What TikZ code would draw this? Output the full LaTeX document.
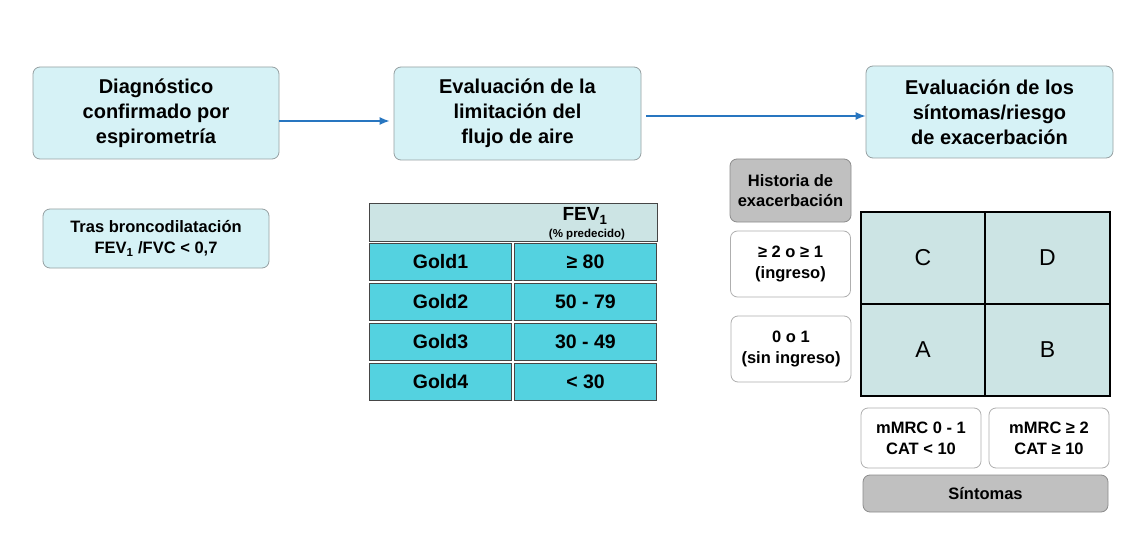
\documentclass[tikz,border=0pt]{standalone}
\usepackage{fontspec}
\setmainfont{Liberation Sans}
\usetikzlibrary{arrows.meta}
\definecolor{boxfill}{RGB}{214,242,246}
\definecolor{boxline}{RGB}{150,160,162}
\definecolor{hdrfill}{RGB}{204,228,228}
\definecolor{cyancell}{RGB}{84,210,224}
\definecolor{grayfill}{RGB}{192,192,192}
\definecolor{grayline}{RGB}{140,140,140}
\definecolor{arrblue}{RGB}{40,118,192}
\definecolor{cellline}{RGB}{70,70,70}
\tikzset{
  bigbox/.style={draw=boxline, fill=boxfill, rounded corners=7pt, line width=0.8pt,
    inner sep=0pt, align=center, font={\fontsize{20}{25}\selectfont\bfseries}},
  smallbox/.style={draw=boxline, fill=boxfill, rounded corners=7pt, line width=0.8pt,
    inner sep=0pt, align=center, font={\fontsize{16.5}{21}\selectfont\bfseries}},
  graybox/.style={draw=grayline, fill=grayfill, rounded corners=7pt, line width=0.8pt,
    inner sep=0pt, align=center, font={\fontsize{16.5}{20.5}\selectfont\bfseries}},
  whitebox/.style={draw=grayline!70, fill=white, rounded corners=7pt, line width=0.8pt,
    inner sep=0pt, align=center, font={\fontsize{16.5}{21}\selectfont\bfseries}},
  hdrcell/.style={draw=cellline, fill=hdrfill, line width=0.7pt, inner sep=0pt,
    minimum width=288pt, minimum height=38pt},
  tcell/.style={draw=cellline, fill=cyancell, line width=0.7pt, inner sep=0pt,
    minimum width=142pt, minimum height=37pt, font={\fontsize{19.5}{24}\selectfont\bfseries}},
  gcell/.style={draw=black, fill=hdrfill, line width=1.8pt, inner sep=0pt,
    minimum height=92pt, font={\fontsize{23}{28}\selectfont}},
  arr/.style={draw=arrblue, line width=1.4pt, -{Latex[length=10pt,width=8pt]}},
  plain/.style={inner sep=0pt}
}
\begin{document}
\begin{tikzpicture}[x=1pt,y=-1pt]
\useasboundingbox[fill=white] (0,0) rectangle (1140,556);

% top boxes
\node[bigbox, minimum width=246pt, minimum height=92pt] (b1) at (156,113)
  {Diagnóstico\\confirmado por\\espirometría};
\node[bigbox, minimum width=247pt, minimum height=93pt] (b2) at (517.5,113.5)
  {Evaluación de la\\limitación del\\flujo de aire};
\node[bigbox, minimum width=247pt, minimum height=92pt] (b3) at (989.5,112)
  {Evaluación de los\\síntomas/riesgo\\de exacerbación};

\draw[arr] ([yshift=-8pt]b1.east) -- ([xshift=-4pt,yshift=-7.5pt]b2.west);
\draw[arr] ([xshift=5pt,yshift=-2.5pt]b2.east) -- ([yshift=-4pt]b3.west);

% post bronchodilator box
\node[smallbox, minimum width=226pt, minimum height=59pt] (tras) at (156,238.5)
  {Tras broncodilatación\\FEV\textsubscript{1} /FVC < 0,7};

% table
\node[hdrcell] (hdr) at (513,222) {};
\node[plain, anchor=base, font={\fontsize{19}{22}\selectfont\bfseries}] (fev) at (585,221) {FEV\textsubscript{1}};
\node[plain, anchor=base, font={\fontsize{11.5}{13}\selectfont\bfseries}] (pred) at (587,237) {(\% predecido)};

\node[tcell] (g1l) at (440.5,262) {Gold1};
\node[tcell] (g1r) at (585.5,262) {≥ 80};
\node[tcell] (g2l) at (440.5,301.5) {Gold2};
\node[tcell] (g2r) at (585.5,301.5) {50 - 79};
\node[tcell] (g3l) at (440.5,341.5) {Gold3};
\node[tcell] (g3r) at (585.5,341.5) {30 - 49};
\node[tcell] (g4l) at (440.5,381.5) {Gold4};
\node[tcell] (g4r) at (585.5,381.5) {< 30};

% exacerbation history
\node[graybox, minimum width=121pt, minimum height=63pt] (hist) at (790.5,190.5)
  {Historia de\\exacerbación};
\node[whitebox, minimum width=120pt, minimum height=66pt] (ing) at (790.5,264)
  {≥ 2 o ≥ 1\\(ingreso)};
\node[whitebox, minimum width=120pt, minimum height=66pt] (sing) at (791,349)
  {0 o 1\\(sin ingreso)};

% grid
\node[gcell, minimum width=124pt] (C) at (923,258) {\raisebox{-2.5pt}{C}};
\node[gcell, minimum width=125pt] (D) at (1047.5,258) {\raisebox{-2.5pt}{D}};
\node[gcell, minimum width=124pt] (A) at (923,350) {\raisebox{-2.5pt}{A}};
\node[gcell, minimum width=125pt] (B) at (1047.5,350) {\raisebox{-2.5pt}{B}};

% symptoms
\node[whitebox, minimum width=120pt, minimum height=60pt] (m1) at (921,438)
  {mMRC 0 - 1\\ CAT < 10};
\node[whitebox, minimum width=120pt, minimum height=60pt] (m2) at (1049,438)
  {mMRC ≥ 2\\ CAT ≥ 10};
\node[graybox, minimum width=245pt, minimum height=37pt] (sint) at (985.5,493.5)
  {Síntomas};
\end{tikzpicture}
\end{document}
